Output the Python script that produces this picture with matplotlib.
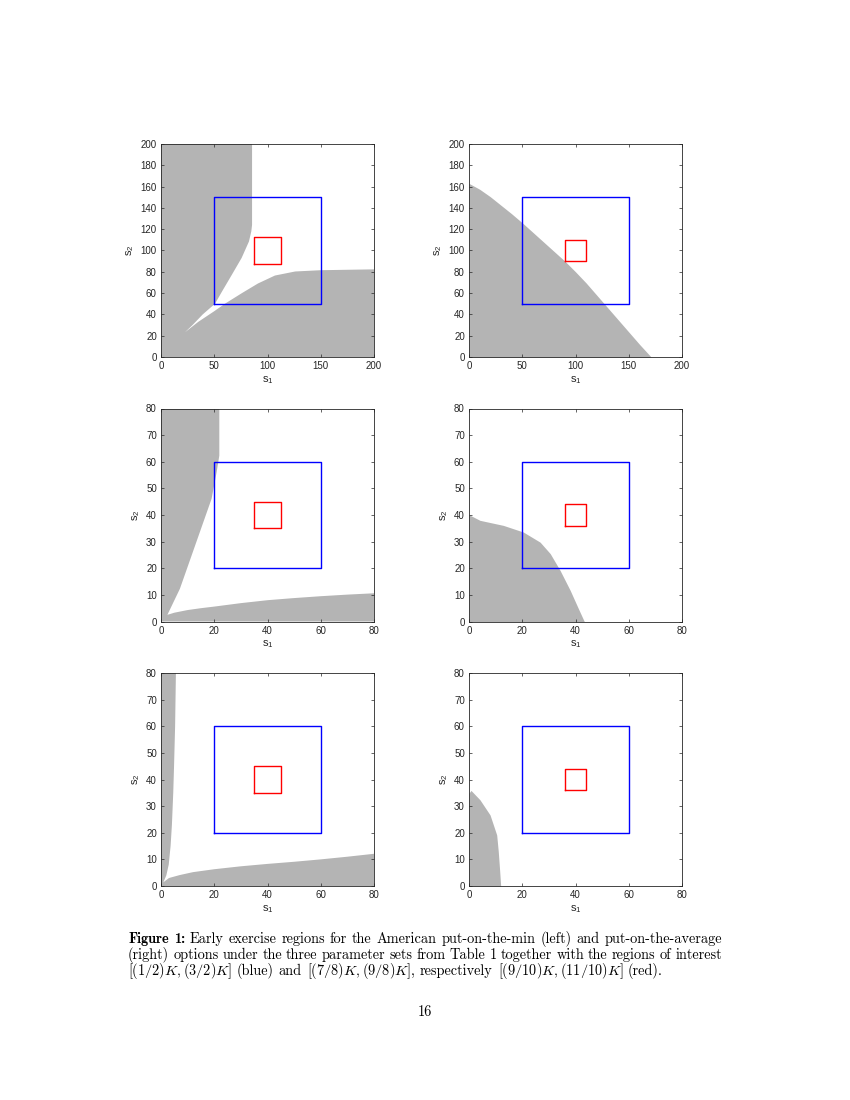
import matplotlib.pyplot as plt

plt.rcParams['font.family'] = ['Liberation Sans', 'DejaVu Sans']
plt.rcParams['mathtext.fontset'] = 'custom'
plt.rcParams['mathtext.rm'] = 'Liberation Sans'
plt.rcParams['mathtext.it'] = 'Liberation Sans:italic'

# strike K of the three parameter sets (rows)
K = [100, 40, 40]

# put-on-the-min: edge of the left exercise region (from the tip upwards)
# and edge of the lower exercise region (from the tip to the right)
min1_left_y = [23.2, 30, 40, 50, 61, 77, 93, 108.5, 118, 124, 200]
min1_left_x = [22.5, 29.6, 39.2, 50.7, 57, 66.4, 75.7, 82.6, 84.8, 85.5, 85.5]
min1_low_x = [22.5, 35, 50, 60, 76, 91, 107, 126, 150, 200]
min1_low_y = [23.2, 33, 43, 50, 60, 69, 76.5, 80.3, 81.5, 82.3]

min2_left_y = [2.5, 12.3, 24.8, 37.3, 46.1, 56.1, 62.3, 80]
min2_left_x = [2.4, 7.1, 11.5, 15.9, 19.0, 20.9, 21.9, 21.9]
min2_low_x = [2.4, 5, 10, 15, 20, 30, 40, 50, 60, 70, 80]
min2_low_y = [2.5, 3.3, 4.3, 5.0, 5.6, 6.9, 8.0, 8.8, 9.5, 10.1, 10.6]

min3_left_y = [1.4, 4, 8, 15, 23, 35, 45, 60, 80]
min3_left_x = [0.9, 2.0, 2.9, 3.6, 4.1, 4.6, 4.9, 5.3, 5.6]
min3_low_x = [0.9, 3, 7, 12, 20, 30, 40, 50, 60, 70, 80]
min3_low_y = [1.4, 3.0, 4.1, 5.2, 6.3, 7.4, 8.3, 9.1, 10.0, 11.0, 12.1]

# put-on-the-average boundaries (gray below the curve)
avg1_x = [0, 10, 20, 30, 40, 50, 60, 70, 80, 90, 100, 110, 120, 130, 140, 150, 160, 171]
avg1_y = [163, 157.5, 150.5, 142.5, 134.5, 126, 117, 108, 99, 90, 80, 69.5, 58, 46.5, 35, 23.5, 12, 0]
avg2_x = [0, 4.1, 12.9, 20.4, 26.7, 30.5, 34.2, 38, 41.1, 43.3]
avg2_y = [40.1, 38, 36.1, 33.6, 29.8, 25.5, 19.2, 11.7, 4.8, 0]
avg3_x = [0, 0.75, 4.1, 7.9, 10.4, 11.0, 11.5, 11.9]
avg3_y = [34.9, 35.9, 32.4, 26.7, 19.2, 12.9, 6, 0]

min_regions = [(min1_left_y, min1_left_x, min1_low_x, min1_low_y),
               (min2_left_y, min2_left_x, min2_low_x, min2_low_y),
               (min3_left_y, min3_left_x, min3_low_x, min3_low_y)]
avg_regions = [(avg1_x, avg1_y), (avg2_x, avg2_y), (avg3_x, avg3_y)]

# regions of interest, as fractions of K
blue_box = (1/2, 3/2)
red_box_min = (7/8, 9/8)
red_box_avg = (9/10, 11/10)

gray = '#b4b4b4'
dark = '0.15'

fig = plt.figure(figsize=(8.5, 11), dpi=100)
lefts = [161/850, 469/850]
bottoms = [1 - 357/1100, 1 - 621.5/1100, 1 - 886/1100]
w, h = 213/850, 213/1100


def draw_box(ax, k, frac, color):
    a, b = frac[0]*k, frac[1]*k
    ax.plot([a, b, b, a, a], [a, a, b, b, a], color=color, lw=1.0)


def style(ax, k):
    ax.set_xlim(0, 2*k)
    ax.set_ylim(0, 2*k)
    if k == 100:
        ax.set_xticks(range(0, 201, 50))
        ax.set_yticks(range(0, 201, 20))
    else:
        ax.set_xticks(range(0, 81, 20))
        ax.set_yticks(range(0, 81, 10))
    ax.tick_params(direction='in', length=2.5, width=0.5, labelsize=7,
                   colors=dark, top=True, right=True, pad=3)
    for s in ax.spines.values():
        s.set_linewidth(0.6)
        s.set_color(dark)
    ax.set_xlabel(r's$_{\mathrm{1}}$', fontsize=8, color=dark, labelpad=2)
    ax.set_ylabel(r's$_{\mathrm{2}}$', fontsize=8, color=dark, labelpad=3)


for r in range(3):
    k = K[r]
    # left column: put-on-the-min, one polygon around both exercise regions
    ax = fig.add_axes([lefts[0], bottoms[r], w, h])
    ly, lx, bx, by = min_regions[r]
    px = [0, 2*k] + bx[::-1] + lx + [0]
    py = [0, 0] + by[::-1] + ly + [2*k]
    ax.fill(px, py, color=gray, lw=0)
    draw_box(ax, k, blue_box, 'b')
    draw_box(ax, k, red_box_min, 'r')
    style(ax, k)

    # right column: put-on-the-average
    ax = fig.add_axes([lefts[1], bottoms[r], w, h])
    ax_x, ax_y = avg_regions[r]
    ax.fill_between(ax_x, 0, ax_y, color=gray, lw=0)
    draw_box(ax, k, blue_box, 'b')
    draw_box(ax, k, red_box_avg, 'r')
    style(ax, k)

# caption, justified like the LaTeX page
renderer = fig.canvas.get_renderer()
fs = 10.3
cap = dict(fontsize=fs, math_fontfamily='cm', ha='left', va='baseline')
x_left, x_right = 128, 722
space = 0.333 * fs * 100 / 72


def put_line(words, y, justify=True):
    texts = []
    for wd in words:
        fam = 'cmb10' if wd in ('Figure', '1:') else 'cmr10'
        texts.append(fig.text(0, 1 - y/1100, wd, family=fam, **cap))
    widths = [t.get_window_extent(renderer).width for t in texts]
    if justify:
        gap = (x_right - x_left - sum(widths)) / (len(words) - 1)
    else:
        gap = space
    x = x_left
    for t, wd in zip(texts, widths):
        t.set_x(x/850)
        x += wd + gap


line1 = ['Figure', '1:', 'Early', 'exercise', 'regions', 'for', 'the', 'American',
         'put-on-the-min', '(left)', 'and', 'put-on-the-average']
line2 = ['(right)', 'options', 'under', 'the', 'three', 'parameter', 'sets', 'from',
         'Table', '1', 'together', 'with', 'the', 'regions', 'of', 'interest']
line3 = [r'$[(1/2)K,(3/2)K]$', '(blue)', 'and', r'$[(7/8)K,(9/8)K]$,', 'respectively',
         r'$[(9/10)K,(11/10)K]$', '(red).']
put_line(line1, 943)
put_line(line2, 959)
put_line(line3, 975, justify=False)
fig.text(0.5, 1 - 1016/1100, '16', family='cmr10', fontsize=fs, ha='center', va='baseline')

fig.savefig('out.png', dpi=100)
